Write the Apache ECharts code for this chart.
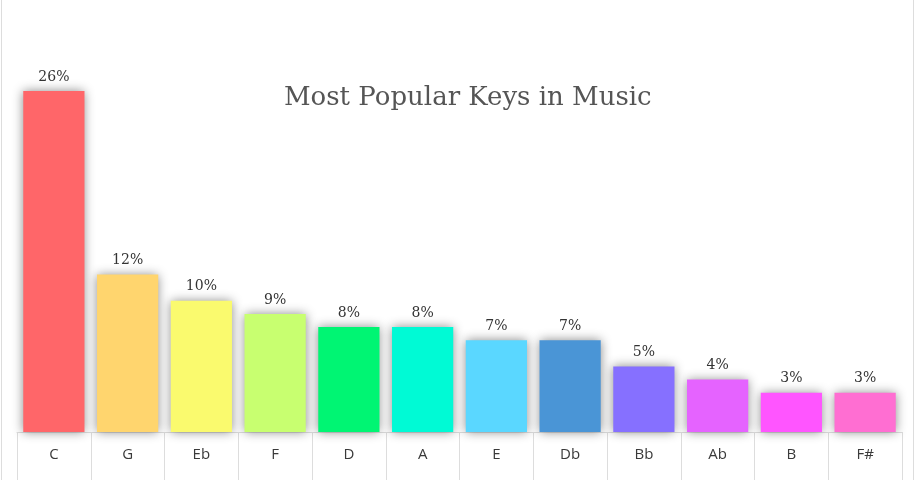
<!DOCTYPE html>
<html>
<head>
<meta charset="utf-8">
<script src="https://cdn.jsdelivr.net/npm/echarts@6/dist/echarts.min.js"></script>
<style>
html,body{margin:0;padding:0;background:#fff;}
#chart{width:915px;height:480px;}
</style>
</head>
<body>
<div id="chart"></div>
<script>
const categories = ["C","G","Eb","F","D","A","E","Db","Bb","Ab","B","F#"];
const values = [26,12,10,9,8,8,7,7,5,4,3,3];
const colors = ["#FF6669","#FFD56E","#FAFA6E","#C8FF70","#00F573","#00FAD5","#5AD7FF","#4A95D6","#8670FF","#E563FF","#FF55FF","#FF6ED2"];
const titleText = "Most Popular Keys in Music";

const chart = echarts.init(document.getElementById('chart'));
chart.setOption({
  backgroundColor: '#fff',
  animation: false,
  title: {
    text: titleText,
    left: 279,
    top: 80,
    textStyle: {fontFamily: 'DejaVu Serif', fontWeight: 'normal', fontSize: 26, color: '#555'}
  },
  graphic: [
    {type:'line', shape:{x1:1.5,y1:0,x2:1.5,y2:480}, style:{stroke:'#ddd',lineWidth:1}},
    {type:'line', shape:{x1:913.5,y1:0,x2:913.5,y2:480}, style:{stroke:'#ddd',lineWidth:1}}
  ],
  grid: {left: 17, right: 13, top: 91, bottom: 48, containLabel: false},
  xAxis: {
    type: 'category',
    data: categories,
    axisLine: {lineStyle: {color: '#ddd'}},
    axisTick: {show: true, length: 48, lineStyle: {color: '#ddd'}},
    axisLabel: {color: '#3a3a3a', fontFamily: 'Open Sans', fontSize: 15, margin: 15}
  },
  yAxis: {
    type: 'value', min: 0, max: 26, show: false,
    splitLine: {show: false}
  },
  series: [{
    type: 'bar',
    data: values.map((v, i) => ({value: v, itemStyle: {color: colors[i]}})),
    barWidth: '83%',
    itemStyle: {shadowBlur: 10, shadowColor: 'rgba(0,0,0,0.45)'},
    label: {
      show: true, position: 'top', distance: 7,
      formatter: p => p.value + '%',
      fontFamily: 'DejaVu Serif', fontSize: 14, color: '#333'
    }
  }]
});
</script>
</body>
</html>
